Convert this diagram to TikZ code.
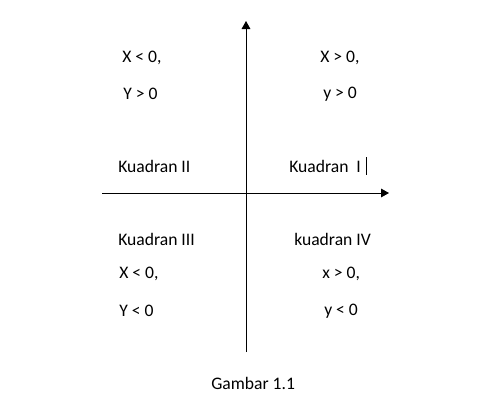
\documentclass[tikz,border=0pt]{standalone}
\usepackage{fontspec}
\setmainfont{Carlito}
\usetikzlibrary{arrows.meta}
\tikzset{
  lbl/.style={anchor=west, inner sep=0pt, font=\fontsize{13.2pt}{15pt}\selectfont},
  axis/.style={line width=0.75pt, -{Triangle[length=6pt,width=6.5pt]}}
}
\begin{document}
\begin{tikzpicture}[x=0.75pt,y=-0.75pt]
\useasboundingbox (0,0) rectangle (496,401);
\coordinate (vb) at (246,352);
\coordinate (vt) at (246,21);
\coordinate (hl) at (102,193);
\coordinate (hr) at (389,193);
\draw[axis] (vb) -- (vt);
\draw[axis] (hl) -- (hr);
\node[lbl] (q2x) at (122,58) {X < 0,};
\node[lbl] (q2y) at (123,94) {Y > 0};
\node[lbl] (q1x) at (320,58) {X > 0,};
\node[lbl] (q1y) at (323,94) {y > 0};
\node[lbl] (q2) at (118,166) {Kuadran II};
\node[lbl] (q1) at (289,166) {Kuadran\ \ I};
\coordinate (cur1) at (366,157);
\coordinate (cur2) at (366,175);
\draw[line width=0.5pt] (cur1) -- (cur2);
\node[lbl] (q3) at (118,239) {Kuadran III};
\node[lbl] (q4) at (294,239) {kuadran IV};
\node[lbl] (q3x) at (119,274) {X < 0,};
\node[lbl] (q4x) at (322,274) {x > 0,};
\node[lbl] (q3y) at (119,311) {Y < 0};
\node[lbl] (q4y) at (324,311) {y < 0};
\node[lbl] (cap) at (211,383) {Gambar 1.1};
\end{tikzpicture}
\end{document}
